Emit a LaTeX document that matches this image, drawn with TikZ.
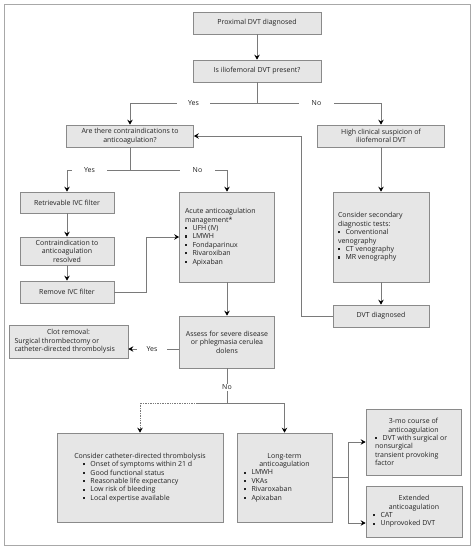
\documentclass[tikz,border=0pt]{standalone}
\usepackage{fontspec}
\setmainfont{Open Sans}
\usetikzlibrary{arrows.meta,calc}
\definecolor{boxfill}{HTML}{E6E6E6}
\definecolor{boxline}{HTML}{8A8A8A}
\definecolor{lnk}{HTML}{7A7A7A}
\definecolor{txt}{HTML}{222222}
\definecolor{frm}{HTML}{A8A8A8}
\newcommand{\itm}[1]{\par\hangindent=7.5pt\hangafter=1\noindent\makebox[7.5pt][l]{\raisebox{0.35ex}{\rule{2.1pt}{2.1pt}}}#1}
\newcommand{\hd}[1]{{\centering #1\par}}
\tikzset{
  box/.style={draw=boxline, fill=boxfill, line width=0.7pt, inner sep=0pt, align=center,
    font=\fontsize{7}{8.4}\selectfont, text=txt},
  ln/.style={draw=lnk, line width=0.7pt},
  arr/.style={ln, -{Stealth[length=5pt,width=5.5pt,inset=1.8pt,color=black]}},
  lab/.style={fill=white, inner ysep=1pt, inner xsep=0pt, font=\fontsize{7}{8.4}\selectfont, text=txt}
}
\begin{document}
\begin{tikzpicture}[x=1pt,y=-1pt]
\useasboundingbox (0,0) rectangle (474,550);
\draw[frm, line width=0.9pt] (4,4) rectangle (470,545);

\node[box, minimum width=128, minimum height=22] (p) at (257,23) {Proximal DVT diagnosed};
\node[box, minimum width=128, minimum height=22] (q) at (257,71) {Is iliofemoral DVT present?};
\node[box, minimum width=127, minimum height=22] (c) at (130,136) {Are there contraindications to\\anticoagulation?};
\node[box, minimum width=127, minimum height=22] (h) at (381,136) {High clinical suspicion of\\iliofemoral DVT};
\node[box, minimum width=94, minimum height=21] (r) at (67,202.5) {Retrievable IVC filter};
\node[box, minimum width=94, minimum height=28] (cr) at (67,251) {Contraindication to\\anticoagulation\\resolved};
\node[box, minimum width=94, minimum height=22] (rm) at (67,292) {Remove IVC filter};
\node[box, minimum width=95, minimum height=90] (a) at (227,237) {\parbox{84pt}{\raggedright Acute anticoagulation\\management*\itm{UFH (IV)}\itm{LMWH}\itm{Fondaparinux}\itm{Rivaroxiban}\itm{Apixaban}}};
\node[box, minimum width=96, minimum height=90] (s) at (381,237) {\parbox{86pt}{\raggedright Consider secondary\\diagnostic tests:\itm{Conventional\\venography}\itm{CT venography}\itm{MR venography}}};
\node[box, minimum width=96, minimum height=22] (d) at (381,316) {DVT diagnosed};
\node[box, minimum width=95, minimum height=52] (as) at (227,342) {Assess for severe disease\\or phlegmasia cerulea\\dolens};
\node[box, minimum width=119, minimum height=33] (cl) at (68.5,341.5) {\parbox{108pt}{\hd{Clot removal:}\raggedright Surgical thrombectomy or\\catheter-directed thrombolysis}};
\node[box, minimum width=166, minimum height=89] (ct) at (140,477.5) {\parbox{154pt}{\hd{Consider catheter-directed thrombolysis}\raggedright\leftskip=20pt\itm{Onset of symptoms within 21 d}\itm{Good functional status}\itm{Reasonable life expectancy}\itm{Low risk of bleeding}\itm{Local expertise available}}};
\node[box, minimum width=95, minimum height=89] (lt) at (284.5,477.5) {\parbox{81pt}{\hd{Long-term\\anticoagulation}\raggedright\itm{LMWH}\itm{VKAs}\itm{Rivaroxaban}\itm{Apixaban}}};
\node[box, minimum width=95, minimum height=66] (m3) at (413.5,442) {\parbox{77pt}{\hd{3-mo course of\\anticoagulation}\raggedright\itm{DVT with surgical or\\nonsurgical\\transient provoking\\factor}}};
\node[box, minimum width=96, minimum height=51] (ex) at (414,511.5) {\parbox{82pt}{\hd{Extended\\anticoagulation}\raggedright\itm{CAT}\itm{Unprovoked DVT}}};

% connectors
\draw[arr] (p.south) -- (q.north);
\coordinate (qb) at (257,103);
\draw[ln] (q.south) -- (qb);
\draw[arr] (qb) -| (c.north);
\draw[arr] (qb) -| (h.north);
\node[lab, minimum width=33] (y1) at (193.5,103) {Yes};
\node[lab, minimum width=35] (n1) at (316.5,103) {No};

\coordinate (cb) at (130,170);
\draw[ln] (c.south) -- (cb);
\draw[arr] (cb) -| (r.north);
\draw[arr] (cb) -| (a.north);
\node[lab, minimum width=35] (y2) at (89.5,170) {Yes};
\node[lab, minimum width=35] (n2) at (197.5,170) {No};

\draw[arr] (r.south) -- (cr.north);
\draw[arr] (cr.south) -- (rm.north);
\draw[arr] (rm.east) -- ++(32,0) |- (a.west);
\draw[arr] (a.south) -- (as.north);

\draw[arr] (h.south) -- (s.north);
\draw[arr] (s.south) -- (d.north);
\draw[arr] (d.west) -- ++(-31,0) |- (c.east);

\draw[arr] (as.west |- 0,349) -- (cl.east |- 0,349);
\node[lab, minimum width=30] (y3) at (152,349) {Yes};

\coordinate (ab) at (227,403);
\coordinate (ad) at (198,403);
\draw[ln] (as.south) -- (ab);
\draw[arr] (ab) -| (lt.north);
\draw[ln] (ab) -- (ad);
\draw[arr, densely dotted] (ad) -| (ct.north);
\node[lab, minimum width=12] (n3) at (227,387.5) {No};

\coordinate (lb) at (348,477.5);
\draw[ln] (lt.east) -- (lb);
\draw[arr] (lb) |- (m3.west);
\draw[arr] (lb) |- ($(ex.west)+(0,11.5)$);
\end{tikzpicture}
\end{document}
